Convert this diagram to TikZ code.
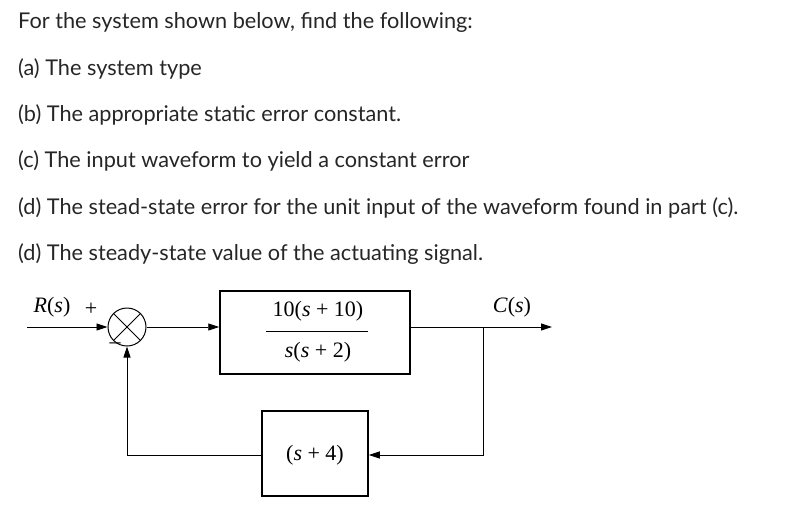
\documentclass[tikz,border=0pt]{standalone}
\usepackage{fontspec}
\setmainfont{Lato}
\newfontfamily\tms{Liberation Serif}
\usetikzlibrary{arrows.meta}
\newcommand{\iv}[1]{\textit{#1}}
\begin{document}
\begin{tikzpicture}[x=1pt,y=-1pt,
  txt/.style={anchor=west,inner sep=0pt,font=\fontsize{21.7}{24}\selectfont,text=black!85},
  blk/.style={draw,line width=1.5pt,inner sep=0pt},
  lbl/.style={font=\tms\fontsize{22}{24}\selectfont,inner sep=0pt},
  con/.style={line width=0.8pt},
  arr/.style={con,-{Triangle[length=11pt,width=7pt]}}]
\useasboundingbox (0,0) rectangle (793,528);
\node[txt] (t1) at (18,22) {For the system shown below, find the following:};
\node[txt] (t2) at (18,69) {(a) The system type};
\node[txt] (t3) at (18,115) {(b) The appropriate static error constant.};
\node[txt] (t4) at (18,161) {(c) The input waveform to yield a constant error};
\node[txt] (t5) at (18,208) {(d) The stead-state error for the unit input of the waveform found in part (c).};
\node[txt] (t6) at (18,254) {(d) The steady-state value of the actuating signal.};
\node[draw,circle,minimum size=38pt,inner sep=0pt,line width=1pt] (sum) at (127,327) {};
\draw[line width=1pt] (sum.north west)--(sum.south east) (sum.north east)--(sum.south west);
\node[blk,minimum width=190pt,minimum height=83pt] (G) at (315,332.5) {};
\node[lbl] (gn) at (318,311) {10(\iv{s} + 10)};
\node[lbl] (gd) at (318,352) {\iv{s}(\iv{s} + 2)};
\draw[con] (266,331)--(368,331);
\node[blk,minimum width=106pt,minimum height=85pt] (H) at (315,453.5) {};
\node[lbl] (hl) at (315,455) {(\iv{s} + 4)};
\coordinate (in) at (27,327);
\coordinate (out) at (552,327);
\coordinate (br) at (483,327);
\node[lbl] (R) at (52,307) {\iv{R}(\iv{s})};
\node[lbl] (pl) at (91,309) {+};
\node[lbl] (mi) at (115,346) {\textendash};
\node[lbl] (C) at (512,307) {\iv{C}(\iv{s})};
\draw[arr] (in)--(sum.west);
\draw[arr] (sum.east)--(G.west |- sum.east);
\draw[arr] (G.east |- br)--(out);
\draw[arr] (br)--(483,455)--(H.east |- 0,455);
\draw[arr] (H.west |- 0,455)--(127,455)--(sum.south);
\end{tikzpicture}
\end{document}
